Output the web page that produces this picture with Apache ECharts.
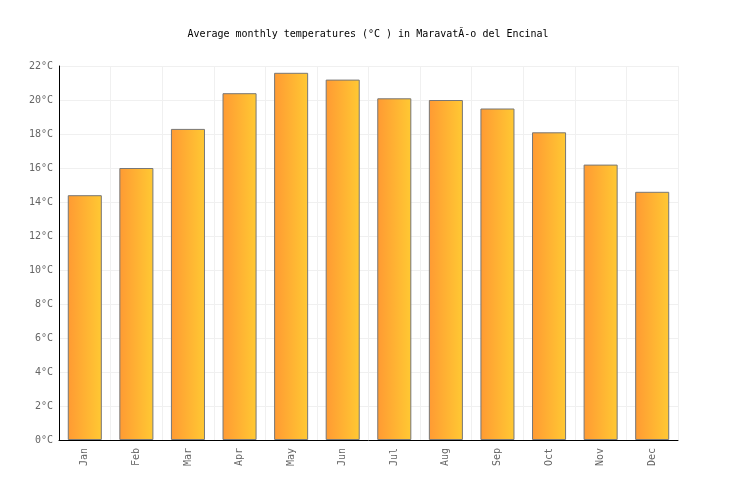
<!DOCTYPE html>
<html>
<head>
<meta charset="utf-8">
<script src="https://cdn.jsdelivr.net/npm/echarts@6/dist/echarts.min.js"></script>
<style>
  html, body { margin: 0; padding: 0; background: #fff; }
  #main { width: 736px; height: 500px; }
</style>
</head>
<body>
<div id="main"></div>
<script>
var months = ['Jan', 'Feb', 'Mar', 'Apr', 'May', 'Jun', 'Jul', 'Aug', 'Sep', 'Oct', 'Nov', 'Dec'];
var temps = [14.4, 16.0, 18.3, 20.4, 21.6, 21.2, 20.1, 20.0, 19.5, 18.1, 16.2, 14.6];
var titleText = 'Average monthly temperatures (°C ) in MaravatĂ-o del Encinal';

var font = 'DejaVu Sans Mono';

// 初始化
var myChart = echarts.init(document.getElementById('main'));
myChart.setOption({
    animation: false,
    title: {
        text: titleText,
        left: 'center',
        top: 24,
        textStyle: {
            fontFamily: font,
            fontSize: 10,
            fontWeight: 'normal',
            color: '#000'
        }
    },
    grid: {
        left: 59,
        right: 58,
        top: 66,
        bottom: 60
    },
    xAxis: {
        type: 'category',
        data: months,
        axisLine: { lineStyle: { color: '#000', width: 1 } },
        axisTick: { show: false },
        splitLine: { show: true, lineStyle: { color: '#f0f0f0', width: 1 } },
        axisLabel: {
            rotate: 90,
            margin: 8,
            fontFamily: font,
            fontSize: 10,
            color: '#666'
        }
    },
    yAxis: {
        type: 'value',
        min: 0,
        max: 22,
        interval: 2,
        axisLine: { show: true, lineStyle: { color: '#000', width: 1 } },
        axisTick: { show: false },
        splitLine: { lineStyle: { color: '#f0f0f0', width: 1 } },
        axisLabel: {
            formatter: '{value}°C',
            margin: 6,
            fontFamily: font,
            fontSize: 10,
            color: '#666'
        }
    },
    series: [
        {
            type: 'bar',
            data: temps,
            barCategoryGap: '34%',
            itemStyle: {
                color: new echarts.graphic.LinearGradient(0, 0, 1, 0, [
                    { offset: 0, color: '#ff9a33' },
                    { offset: 1, color: '#ffc933' }
                ]),
                borderColor: '#777',
                borderWidth: 1
            }
        }
    ]
});
</script>
</body>
</html>
